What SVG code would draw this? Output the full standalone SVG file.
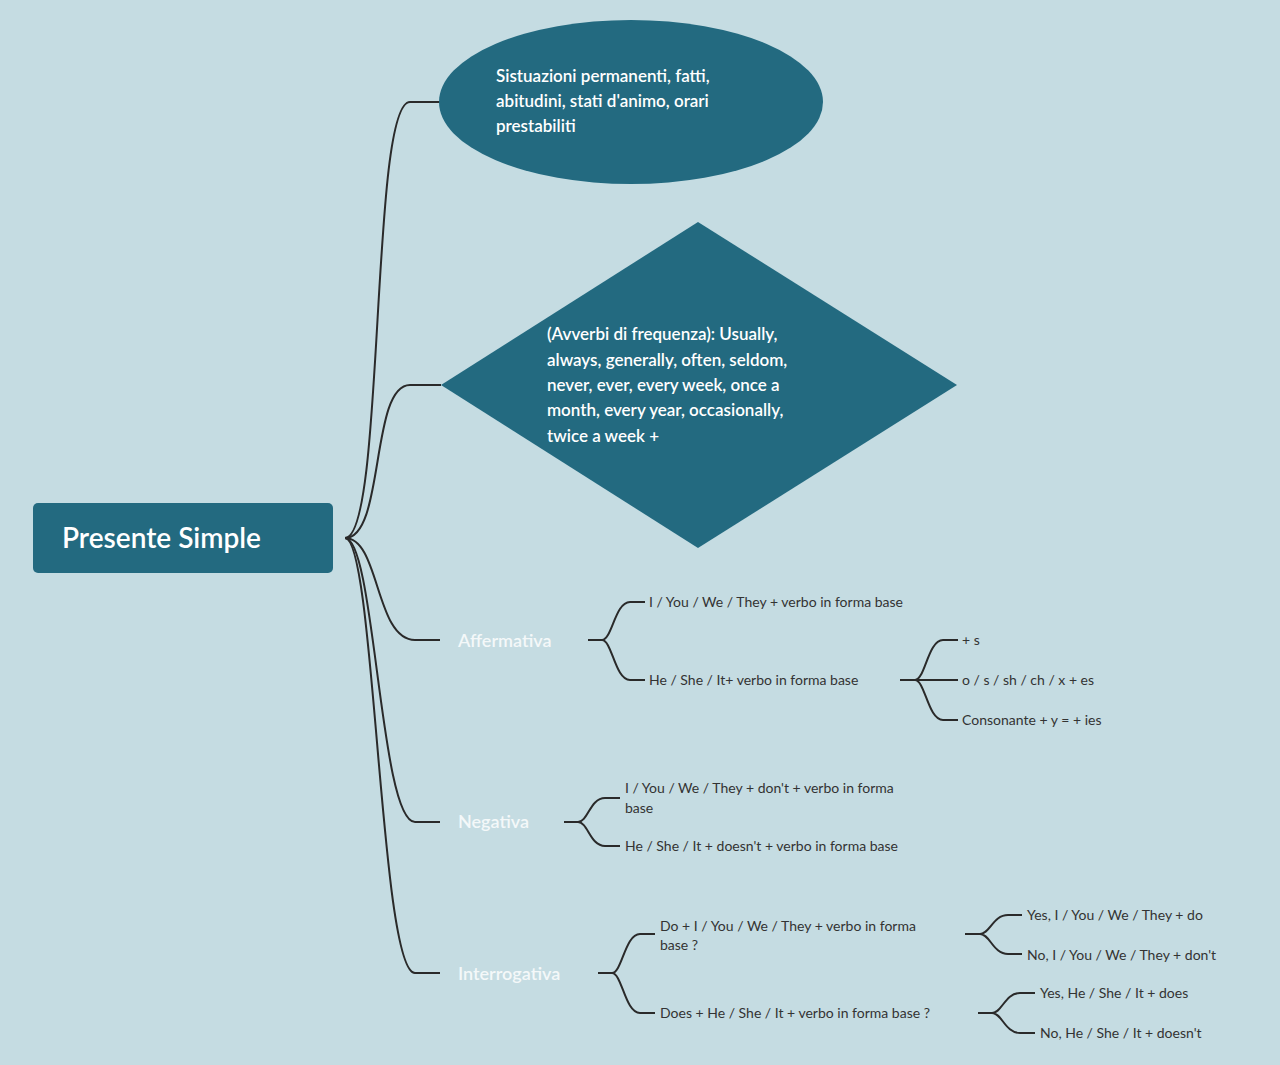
<svg xmlns="http://www.w3.org/2000/svg" width="1280" height="1065" viewBox="0 0 1280 1065">
<style>
.c{fill:none;stroke:#2a2a2a;stroke-width:2}
.n{fill:#236a80}
.w{fill:#fff;font-family:Lato,"Open Sans",sans-serif;font-weight:600;font-size:17px}
.l{fill:#f4f8f9;font-family:Lato,"Open Sans",sans-serif;font-weight:600;font-size:18px}
.t{fill:#333;font-family:Lato,"Open Sans",sans-serif;font-size:14px}
</style>
<rect width="1280" height="1065" fill="#c5dce2"/>
<g id="connectors">
<path class="c" d="M345,538 C385,538 370,102 410,102 L440,102"/>
<path class="c" d="M345,538 C385,538 370,385 410,385 L441,385"/>
<path class="c" d="M345,538 C380,538 375,640 415,640 L440,640"/>
<path class="c" d="M345,538 C375,538 380,822 415,822 L440,822"/>
<path class="c" d="M345,538 C375,538 380,973 415,973 L440,973"/>
<path class="c" d="M588,640 L602,640 C612,640 615,602 630,602 L645,602 M602,640 C612,640 615,680 630,680 L645,680"/>
<path class="c" d="M900,680 L958,680 M915,680 C925,680 928,640 943,640 L958,640 M915,680 C925,680 928,720 943,720 L958,720"/>
<path class="c" d="M564,822 L578,822 C588,822 590,798 605,798 L620,798 M578,822 C588,822 590,846 605,846 L620,846"/>
<path class="c" d="M598,973 L612,973 C622,973 625,934 640,934 L655,934 M612,973 C622,973 625,1013 640,1013 L655,1013"/>
<path class="c" d="M965,934 L980,934 C990,934 993,915 1008,915 L1022,915 M980,934 C990,934 993,954 1008,954 L1022,954"/>
<path class="c" d="M978,1013 L992,1013 C1002,1013 1005,993 1020,993 L1035,993 M992,1013 C1002,1013 1005,1033 1020,1033 L1035,1033"/>
</g>
<g id="root"><rect class="n" x="33" y="503" width="300" height="70" rx="5"/><text x="62" y="548" fill="#fff" font-family="Lato,'Open Sans',sans-serif" font-weight="600" font-size="28">Presente Simple</text></g>
<g id="uso"><ellipse class="n" cx="631" cy="102" rx="192" ry="82"/>
<text class="w" x="496" y="82">Sistuazioni permanenti, fatti,</text>
<text class="w" x="496" y="107">abitudini, stati d'animo, orari</text>
<text class="w" x="496" y="132">prestabiliti</text></g>
<g id="avverbi"><polygon class="n" points="698,222 957,385 698,548 441,385"/>
<text class="w" x="547" y="340">(Avverbi di frequenza): Usually,</text>
<text class="w" x="547" y="366">always, generally, often, seldom,</text>
<text class="w" x="547" y="391">never, ever, every week, once a</text>
<text class="w" x="547" y="416">month, every year, occasionally,</text>
<text class="w" x="547" y="442">twice a week +</text></g>
<g id="affermativa"><text class="l" x="458" y="647">Affermativa</text></g>
<g id="aff1"><text class="t" x="649" y="607">I / You / We / They + verbo in forma base</text></g>
<g id="aff2"><text class="t" x="649" y="685">He / She / It+ verbo in forma base</text></g>
<g id="s1"><text class="t" x="962" y="645">+ s</text></g>
<g id="s2"><text class="t" x="962" y="685">o / s / sh / ch / x + es</text></g>
<g id="s3"><text class="t" x="962" y="725">Consonante + y = + ies</text></g>
<g id="negativa"><text class="l" x="458" y="828">Negativa</text></g>
<g id="neg1"><text class="t" x="625" y="793">I / You / We / They + don't + verbo in forma</text><text class="t" x="625" y="813">base</text></g>
<g id="neg2"><text class="t" x="625" y="851">He / She / It + doesn't + verbo in forma base</text></g>
<g id="interrogativa"><text class="l" x="458" y="980">Interrogativa</text></g>
<g id="int1"><text class="t" x="660" y="931">Do + I / You / We / They + verbo in forma</text><text class="t" x="660" y="950">base ?</text></g>
<g id="int2"><text class="t" x="660" y="1018">Does + He / She / It + verbo in forma base ?</text></g>
<g id="r1"><text class="t" x="1027" y="920">Yes, I / You / We / They + do</text></g>
<g id="r2"><text class="t" x="1027" y="960">No, I / You / We / They + don't</text></g>
<g id="r3"><text class="t" x="1040" y="998">Yes, He / She / It + does</text></g>
<g id="r4"><text class="t" x="1040" y="1038">No, He / She / It + doesn't</text></g>
</svg>
